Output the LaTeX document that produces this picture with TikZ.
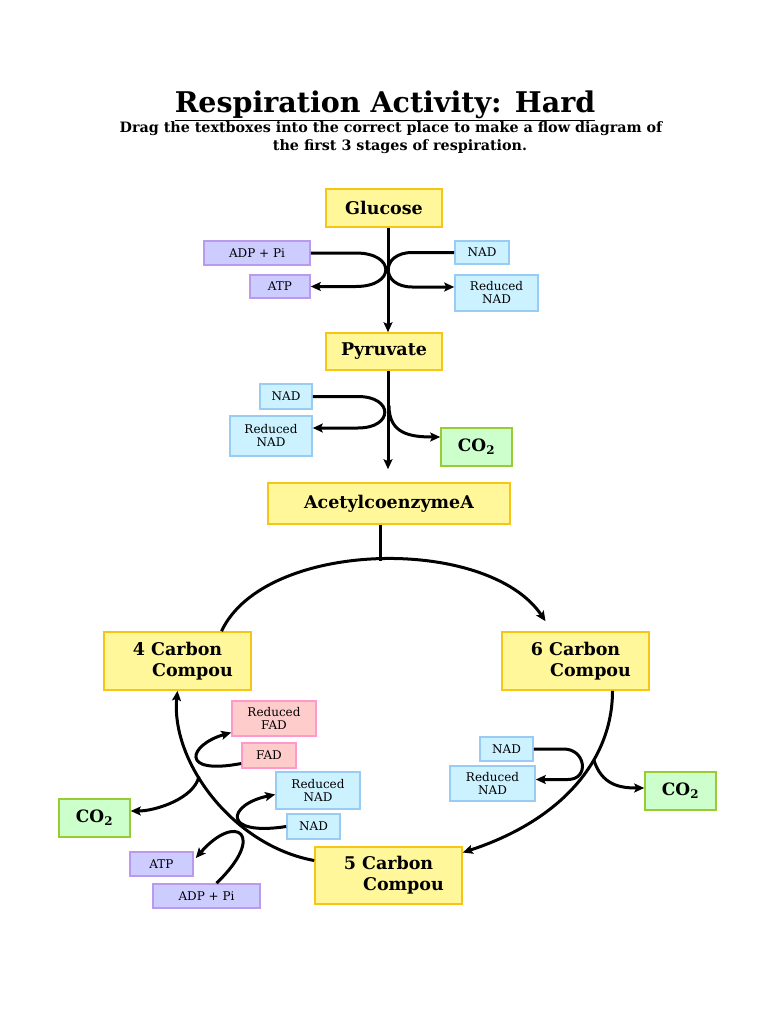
\documentclass[tikz,border=0pt]{standalone}
\usepackage{fontspec}
\setmainfont{DejaVu Serif}
\usepackage{xcolor}
\usepackage{tikz}
\usetikzlibrary{
    arrows.meta,
    positioning,
    calc
}
\definecolor{resyellow}{HTML}{FFF799}
\definecolor{resgold}{HTML}{F5C518}
\definecolor{respurple}{HTML}{CCCCFF}
\definecolor{respurpleline}{HTML}{BB99EE}
\definecolor{resblue}{HTML}{CCF2FF}
\definecolor{resblueline}{HTML}{99CCF5}
\definecolor{respink}{HTML}{FFCCCC}
\definecolor{respinkline}{HTML}{FF99CC}
\definecolor{resgreen}{HTML}{CCFFCC}
\definecolor{resgreenline}{HTML}{99CC33}
\tikzset{
    % Stage box
    stagebox/.style={
        rectangle,
        draw=resgold,
        fill=resyellow,
        line width=1.6pt,
        text=black,
        font=\fontsize{17.5}{21}\selectfont\bfseries,
        align=center,
        inner sep=2pt
    },
    % Molecule box
    molbox/.style={
        rectangle,
        draw=#1line,
        fill=#1,
        line width=1.6pt,
        text=black,
        font=\fontsize{12}{13}\selectfont,
        align=center,
        inner sep=1pt
    },
    molbox/.default=resblue,
    % Carbon dioxide box
    co2box/.style={
        molbox=resgreen,
        font=\fontsize{17}{20}\selectfont\bfseries,
        minimum width=71pt,
        minimum height=38pt
    },
    % Arrow style
    flowarrow/.style={
        -{Stealth[length=10pt,width=9pt,inset=2pt]},
        line width=3pt,
        color=black
    },
    flowline/.style={
        line width=3pt,
        color=black
    }
}

\begin{document}
\begin{tikzpicture}[x=1pt, y=-1pt]

    \useasboundingbox (0,0) rectangle (768,1024);
    \fill[white] (0,0) rectangle (768,1024);

    % Heading
    \node[font=\fontsize{28.5}{32}\selectfont\bfseries] (title) at (385,106)
        {\underline{Respiration Activity: Hard}};
    \node[font=\fontsize{14.3}{18}\selectfont\bfseries, align=center] (subtitle) at (391,138)
        {Drag the textboxes into the correct place to make a flow diagram of\\
         \hspace*{18pt}the first 3 stages of respiration.};

    % Glycolysis
    \node[stagebox, minimum width=116pt, minimum height=38pt] (glucose) at (384,208) {Glucose};
    \node[molbox=respurple, minimum width=106pt, minimum height=24pt] (adpA) at (257,253) {ADP + Pi};
    \node[molbox=respurple, minimum width=60pt, minimum height=23pt] (atpA) at (280,286.5) {ATP};
    \node[molbox, minimum width=54pt, minimum height=23pt] (nadA) at (482,252.5) {NAD};
    \node[molbox, minimum width=83pt, minimum height=36pt] (rednadA) at (496.5,293) {Reduced\\NAD};
    \node[stagebox, minimum width=116pt, minimum height=37pt] (pyruvate) at (384,351.5) {Pyruvate};

    % Link reaction
    \node[molbox, minimum width=52pt, minimum height=25pt] (nadB) at (286,396.5) {NAD};
    \node[molbox, minimum width=82pt, minimum height=40pt] (rednadB) at (271,436) {Reduced\\NAD};
    \node[co2box] (co2A) at (476.5,447) {CO\textsubscript{2}};
    \node[stagebox, minimum width=242pt, minimum height=41pt] (acetyl) at (389,503.5) {AcetylcoenzymeA};

    % Krebs cycle
    \node[stagebox, minimum width=147pt, minimum height=58pt] (carbonfour) at (177.5,661)
        {4 Carbon\\\hspace*{30pt}Compou};
    \node[stagebox, minimum width=147pt, minimum height=58pt] (carbonsix) at (575.5,661)
        {6 Carbon\\\hspace*{30pt}Compou};
    \node[stagebox, minimum width=147pt, minimum height=57pt] (carbonfive) at (388.5,875.5)
        {5 Carbon\\\hspace*{30pt}Compou};
    \node[molbox=respink, minimum width=84pt, minimum height=35pt] (redfad) at (274,718.5) {Reduced\\FAD};
    \node[molbox=respink, minimum width=54pt, minimum height=25pt] (fad) at (269,755.5) {FAD};
    \node[molbox, minimum width=84pt, minimum height=37pt] (rednadC) at (318,790.5) {Reduced\\NAD};
    \node[molbox, minimum width=53pt, minimum height=25pt] (nadC) at (313.5,826.5) {NAD};
    \node[co2box] (co2B) at (94.5,818) {CO\textsubscript{2}};
    \node[molbox=respurple, minimum width=63pt, minimum height=24pt] (atpB) at (161.5,864) {ATP};
    \node[molbox=respurple, minimum width=107pt, minimum height=24pt] (adpB) at (206.5,896) {ADP + Pi};
    \node[molbox, minimum width=53pt, minimum height=24pt] (nadD) at (506.5,749) {NAD};
    \node[molbox, minimum width=85pt, minimum height=35pt] (rednadD) at (492.5,783.5) {Reduced\\NAD};
    \node[co2box] (co2C) at (680.5,791) {CO\textsubscript{2}};

    % Glycolysis arrows
    \draw[flowarrow] ([xshift=4]glucose.south) -- ([xshift=4]pyruvate.north);
    \draw[flowarrow] (adpA.east) -- ++(45,0) .. controls +(40,0) and +(40,0) .. ([xshift=45]atpA.east) -- (atpA.east);
    \draw[flowarrow] (nadA.west) -- ++(-42,0) .. controls +(-32,0) and +(-32,0) .. ([xshift=-42,yshift=6]rednadA.west) -- ([yshift=6]rednadA.west);

    % Link reaction arrows
    \draw[flowarrow] ([xshift=4]pyruvate.south) -- ([xshift=-1,yshift=13]acetyl.north);
    \draw[flowarrow] (nadB.east) -- ++(45,0) .. controls +(36,0) and +(36,0) .. ([xshift=45,yshift=8]rednadB.east) -- ([yshift=8]rednadB.east);
    \draw[flowarrow] ([xshift=5,yshift=-35]pyruvate.south) .. controls +(0,28) and +(-30,0) .. ([yshift=10]co2A.west);

    % Krebs cycle arrows
    \draw[flowline] ([xshift=-9]acetyl.south) -- ++(0,36);
    \draw[flowarrow] ([xshift=44]carbonfour.north) .. controls +(43,-92) and +(-58,-86) .. ([xshift=-30,yshift=10]carbonsix.north);
    \draw[flowarrow] ([xshift=37]carbonsix.south) .. controls +(0,70) and +(98,-32) .. ([yshift=23]carbonfive.east)
        coordinate[pos=0.35] (splitsix);
    \draw[flowarrow] (nadD.east) -- ++(30,0) .. controls +(22,0) and +(22,0) .. ([xshift=32,yshift=4]rednadD.east) -- ([yshift=4]rednadD.east);
    \draw[flowarrow] (splitsix) .. controls +(8,25) and +(-25,0) .. ([yshift=3]co2C.west);
    \draw[flowarrow] ([yshift=15]carbonfive.west) .. controls +(-82,-15) and +(-7,70) .. (carbonfour.south)
        coordinate[pos=0.6] (splitfour);
    \draw[flowarrow] (splitfour) .. controls +(-5,22) and +(25,0) .. ([yshift=7]co2B.east);
    \draw[flowarrow] ([yshift=-8]fad.west) .. controls +(-63,12) and +(-42,12) .. ([yshift=-14]redfad.west);
    \draw[flowarrow] (nadC.west) .. controls +(-65,10) and +(-48,10) .. ([yshift=-4]rednadC.west);
    \draw[flowarrow] ([xshift=10]adpB.north) .. controls +(51,-49) and +(40,-46) .. ([xshift=2,yshift=6]atpB.east);

\end{tikzpicture}
\end{document}
